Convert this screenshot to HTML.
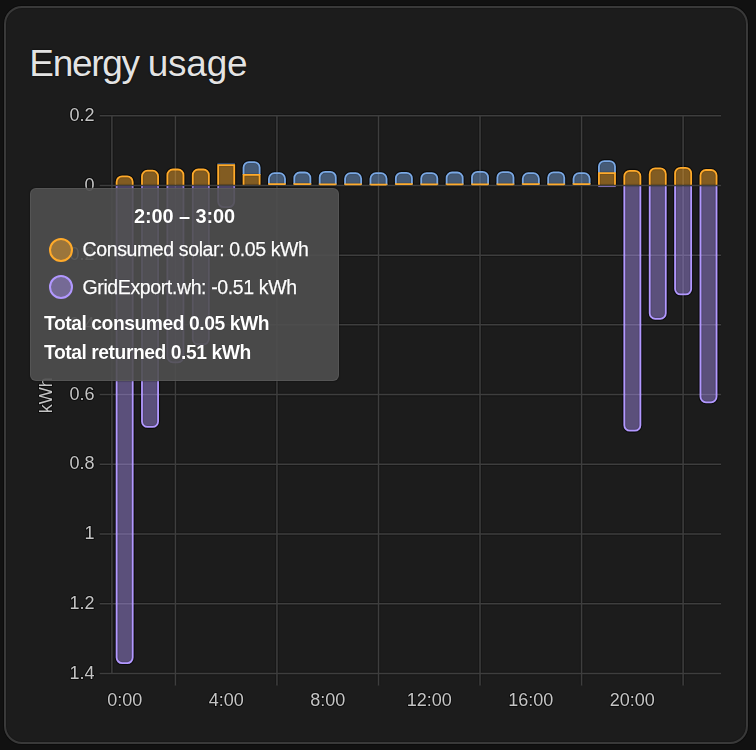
<!DOCTYPE html>
<html><head><meta charset="utf-8"><style>
html,body{margin:0;padding:0;background:#111111;width:756px;height:750px;overflow:hidden;font-family:"Liberation Sans",sans-serif;}
.card{position:absolute;left:3.6px;top:5.9px;width:744.2px;height:738.1px;box-sizing:border-box;border:2px solid #393939;border-radius:18px;background:#1c1c1c;box-shadow:0 0 0 1px rgba(0,0,0,0.35),inset 0 0 0 1px rgba(0,0,0,0.12);}
.title{position:absolute;left:29.3px;top:43px;font-size:37px;line-height:normal;color:#e3e3e3;letter-spacing:-0.85px;white-space:nowrap;text-shadow:0 0 1.2px #000,0 0 1.2px #000;}
svg{position:absolute;left:0;top:0;will-change:transform;}
.ax text{font-size:18px;fill:#c4c4c4;font-family:"Liberation Sans",sans-serif;stroke:rgba(0,0,0,0.55);stroke-width:2px;paint-order:stroke;stroke-linejoin:round;}
.tip{position:absolute;left:30px;top:188px;width:309px;height:193px;box-sizing:border-box;border-radius:6px;background:rgba(79,79,79,0.9);border:1px solid rgba(110,110,110,0.35);box-shadow:0 0 1px 0.3px rgba(0,0,0,0.18);color:#fff;will-change:transform;}
.tip div{position:absolute;white-space:nowrap;line-height:normal;-webkit-text-stroke:0.35px #fff;text-shadow:0 0 1px rgba(0,0,0,0.7);}
.tip .hd{left:0;width:100%;top:15.5px;text-align:center;font-weight:bold;font-size:20px;letter-spacing:-0.1px;-webkit-text-stroke:0;}
.tip .row{left:51.5px;font-size:19.5px;letter-spacing:-0.38px;-webkit-text-stroke:0.25px #fff;}
.tip .dot{left:17.7px;width:24.6px;height:24.6px;border-radius:50%;box-sizing:border-box;border:2.1px solid;}
.tip .tot{left:13px;font-weight:bold;font-size:19.3px;letter-spacing:-0.45px;-webkit-text-stroke:0;}
</style></head><body>
<div class="card"></div>
<div class="title" style="left:29.3px;letter-spacing:-1.3px">Energy</div><div class="title" style="left:147.7px;letter-spacing:-0.2px">usage</div>
<svg width="756" height="750" viewBox="0 0 756 750">
<g><path d="M116.60,186.15V657.60A5.50,5.50 0 0 0 122.10,663.10H127.20A5.50,5.50 0 0 0 132.70,657.60V186.15" fill="none" stroke="rgba(0,0,0,0.6)" stroke-width="4"/>
<path d="M116.60,184.65V181.90A5.50,5.50 0 0 1 122.10,176.40H127.20A5.50,5.50 0 0 1 132.70,181.90V184.65" fill="none" stroke="rgba(0,0,0,0.6)" stroke-width="4"/>
<path d="M141.98,186.15V421.40A5.50,5.50 0 0 0 147.48,426.90H152.59A5.50,5.50 0 0 0 158.09,421.40V186.15" fill="none" stroke="rgba(0,0,0,0.6)" stroke-width="4"/>
<path d="M141.98,184.65V176.20A5.50,5.50 0 0 1 147.48,170.70H152.59A5.50,5.50 0 0 1 158.09,176.20V184.65" fill="none" stroke="rgba(0,0,0,0.6)" stroke-width="4"/>
<path d="M167.37,186.15V356.80A5.50,5.50 0 0 0 172.87,362.30H177.97A5.50,5.50 0 0 0 183.47,356.80V186.15" fill="none" stroke="rgba(0,0,0,0.6)" stroke-width="4"/>
<path d="M167.37,184.65V175.00A5.50,5.50 0 0 1 172.87,169.50H177.97A5.50,5.50 0 0 1 183.47,175.00V184.65" fill="none" stroke="rgba(0,0,0,0.6)" stroke-width="4"/>
<path d="M192.75,186.15V338.90A5.50,5.50 0 0 0 198.25,344.40H203.36A5.50,5.50 0 0 0 208.86,338.90V186.15" fill="none" stroke="rgba(0,0,0,0.6)" stroke-width="4"/>
<path d="M192.75,184.65V175.00A5.50,5.50 0 0 1 198.25,169.50H203.36A5.50,5.50 0 0 1 208.86,175.00V184.65" fill="none" stroke="rgba(0,0,0,0.6)" stroke-width="4"/>
<path d="M218.14,186.15V201.60A5.50,5.50 0 0 0 223.64,207.10H228.74A5.50,5.50 0 0 0 234.24,201.60V186.15" fill="none" stroke="rgba(0,0,0,0.6)" stroke-width="4"/>
<path d="M218.14,184.65V165.20H234.24V184.65" fill="none" stroke="rgba(0,0,0,0.6)" stroke-width="4"/>
<path d="M243.53,174.90V167.60A5.50,5.50 0 0 1 249.03,162.10H254.12A5.50,5.50 0 0 1 259.62,167.60V174.90" fill="none" stroke="rgba(0,0,0,0.6)" stroke-width="4"/>
<path d="M243.53,184.65V174.90H259.62V184.65" fill="none" stroke="rgba(0,0,0,0.6)" stroke-width="4"/>
<path d="M268.91,184.20V178.70A5.50,5.50 0 0 1 274.41,173.20H279.51A5.50,5.50 0 0 1 285.01,178.70V184.20" fill="none" stroke="rgba(0,0,0,0.6)" stroke-width="4"/>
<path d="M268.91,184.65V184.20H285.01V184.65" fill="none" stroke="rgba(0,0,0,0.6)" stroke-width="4"/>
<path d="M294.30,184.20V178.00A5.50,5.50 0 0 1 299.80,172.50H304.90A5.50,5.50 0 0 1 310.40,178.00V184.20" fill="none" stroke="rgba(0,0,0,0.6)" stroke-width="4"/>
<path d="M294.30,184.65V184.20H310.40V184.65" fill="none" stroke="rgba(0,0,0,0.6)" stroke-width="4"/>
<path d="M319.68,184.40V177.40A5.50,5.50 0 0 1 325.18,171.90H330.28A5.50,5.50 0 0 1 335.78,177.40V184.40" fill="none" stroke="rgba(0,0,0,0.6)" stroke-width="4"/>
<path d="M319.68,184.65V184.40H335.78V184.65" fill="none" stroke="rgba(0,0,0,0.6)" stroke-width="4"/>
<path d="M345.06,184.40V178.70A5.50,5.50 0 0 1 350.56,173.20H355.67A5.50,5.50 0 0 1 361.17,178.70V184.40" fill="none" stroke="rgba(0,0,0,0.6)" stroke-width="4"/>
<path d="M345.06,184.65V184.40H361.17V184.65" fill="none" stroke="rgba(0,0,0,0.6)" stroke-width="4"/>
<path d="M370.45,184.90V178.70A5.50,5.50 0 0 1 375.95,173.20H381.05A5.50,5.50 0 0 1 386.55,178.70V184.90" fill="none" stroke="rgba(0,0,0,0.6)" stroke-width="4"/>
<path d="M370.45,184.65V184.60H386.55V184.65" fill="none" stroke="rgba(0,0,0,0.6)" stroke-width="4"/>
<path d="M395.83,184.20V178.30A5.50,5.50 0 0 1 401.33,172.80H406.44A5.50,5.50 0 0 1 411.94,178.30V184.20" fill="none" stroke="rgba(0,0,0,0.6)" stroke-width="4"/>
<path d="M395.83,184.65V184.20H411.94V184.65" fill="none" stroke="rgba(0,0,0,0.6)" stroke-width="4"/>
<path d="M421.22,184.40V178.60A5.50,5.50 0 0 1 426.72,173.10H431.82A5.50,5.50 0 0 1 437.32,178.60V184.40" fill="none" stroke="rgba(0,0,0,0.6)" stroke-width="4"/>
<path d="M421.22,184.65V184.40H437.32V184.65" fill="none" stroke="rgba(0,0,0,0.6)" stroke-width="4"/>
<path d="M446.60,184.40V178.00A5.50,5.50 0 0 1 452.10,172.50H457.20A5.50,5.50 0 0 1 462.70,178.00V184.40" fill="none" stroke="rgba(0,0,0,0.6)" stroke-width="4"/>
<path d="M446.60,184.65V184.40H462.70V184.65" fill="none" stroke="rgba(0,0,0,0.6)" stroke-width="4"/>
<path d="M471.99,184.40V177.30A5.50,5.50 0 0 1 477.49,171.80H482.59A5.50,5.50 0 0 1 488.09,177.30V184.40" fill="none" stroke="rgba(0,0,0,0.6)" stroke-width="4"/>
<path d="M471.99,184.65V184.40H488.09V184.65" fill="none" stroke="rgba(0,0,0,0.6)" stroke-width="4"/>
<path d="M497.38,184.40V177.60A5.50,5.50 0 0 1 502.88,172.10H507.98A5.50,5.50 0 0 1 513.48,177.60V184.40" fill="none" stroke="rgba(0,0,0,0.6)" stroke-width="4"/>
<path d="M497.38,184.65V184.40H513.48V184.65" fill="none" stroke="rgba(0,0,0,0.6)" stroke-width="4"/>
<path d="M522.76,184.20V178.70A5.50,5.50 0 0 1 528.26,173.20H533.36A5.50,5.50 0 0 1 538.86,178.70V184.20" fill="none" stroke="rgba(0,0,0,0.6)" stroke-width="4"/>
<path d="M522.76,184.65V184.20H538.86V184.65" fill="none" stroke="rgba(0,0,0,0.6)" stroke-width="4"/>
<path d="M548.15,184.40V177.80A5.50,5.50 0 0 1 553.65,172.30H558.75A5.50,5.50 0 0 1 564.25,177.80V184.40" fill="none" stroke="rgba(0,0,0,0.6)" stroke-width="4"/>
<path d="M548.15,184.65V184.40H564.25V184.65" fill="none" stroke="rgba(0,0,0,0.6)" stroke-width="4"/>
<path d="M573.53,184.20V178.70A5.50,5.50 0 0 1 579.03,173.20H584.13A5.50,5.50 0 0 1 589.63,178.70V184.20" fill="none" stroke="rgba(0,0,0,0.6)" stroke-width="4"/>
<path d="M573.53,184.65V184.20H589.63V184.65" fill="none" stroke="rgba(0,0,0,0.6)" stroke-width="4"/>
<path d="M598.92,173.10V166.60A5.50,5.50 0 0 1 604.42,161.10H609.51A5.50,5.50 0 0 1 615.01,166.60V173.10" fill="none" stroke="rgba(0,0,0,0.6)" stroke-width="4"/>
<path d="M598.92,184.65V173.10H615.01V184.65" fill="none" stroke="rgba(0,0,0,0.6)" stroke-width="4"/>
<path d="M624.30,186.15V425.20A5.50,5.50 0 0 0 629.80,430.70H634.90A5.50,5.50 0 0 0 640.40,425.20V186.15" fill="none" stroke="rgba(0,0,0,0.6)" stroke-width="4"/>
<path d="M624.30,184.65V176.30A5.50,5.50 0 0 1 629.80,170.80H634.90A5.50,5.50 0 0 1 640.40,176.30V184.65" fill="none" stroke="rgba(0,0,0,0.6)" stroke-width="4"/>
<path d="M649.69,186.15V313.30A5.50,5.50 0 0 0 655.19,318.80H660.28A5.50,5.50 0 0 0 665.78,313.30V186.15" fill="none" stroke="rgba(0,0,0,0.6)" stroke-width="4"/>
<path d="M649.69,184.65V173.90A5.50,5.50 0 0 1 655.19,168.40H660.28A5.50,5.50 0 0 1 665.78,173.90V184.65" fill="none" stroke="rgba(0,0,0,0.6)" stroke-width="4"/>
<path d="M675.07,186.15V288.90A5.50,5.50 0 0 0 680.57,294.40H685.67A5.50,5.50 0 0 0 691.17,288.90V186.15" fill="none" stroke="rgba(0,0,0,0.6)" stroke-width="4"/>
<path d="M675.07,184.65V173.30A5.50,5.50 0 0 1 680.57,167.80H685.67A5.50,5.50 0 0 1 691.17,173.30V184.65" fill="none" stroke="rgba(0,0,0,0.6)" stroke-width="4"/>
<path d="M700.46,186.15V396.80A5.50,5.50 0 0 0 705.96,402.30H711.05A5.50,5.50 0 0 0 716.55,396.80V186.15" fill="none" stroke="rgba(0,0,0,0.6)" stroke-width="4"/>
<path d="M700.46,184.65V175.50A5.50,5.50 0 0 1 705.96,170.00H711.05A5.50,5.50 0 0 1 716.55,175.50V184.65" fill="none" stroke="rgba(0,0,0,0.6)" stroke-width="4"/></g>
<g><line x1="99.7" x2="721" y1="115.70" y2="115.70" stroke="rgba(0,0,0,0.22)" stroke-width="3.6"/><line x1="99.7" x2="721" y1="185.42" y2="185.42" stroke="rgba(0,0,0,0.22)" stroke-width="3.6"/><line x1="99.7" x2="721" y1="255.14" y2="255.14" stroke="rgba(0,0,0,0.22)" stroke-width="3.6"/><line x1="99.7" x2="721" y1="324.86" y2="324.86" stroke="rgba(0,0,0,0.22)" stroke-width="3.6"/><line x1="99.7" x2="721" y1="394.58" y2="394.58" stroke="rgba(0,0,0,0.22)" stroke-width="3.6"/><line x1="99.7" x2="721" y1="464.30" y2="464.30" stroke="rgba(0,0,0,0.22)" stroke-width="3.6"/><line x1="99.7" x2="721" y1="534.02" y2="534.02" stroke="rgba(0,0,0,0.22)" stroke-width="3.6"/><line x1="99.7" x2="721" y1="603.74" y2="603.74" stroke="rgba(0,0,0,0.22)" stroke-width="3.6"/><line x1="99.7" x2="721" y1="673.46" y2="673.46" stroke="rgba(0,0,0,0.22)" stroke-width="3.6"/><line x1="111.90" x2="111.90" y1="116.5" y2="672.7" stroke="rgba(0,0,0,0.22)" stroke-width="3.6"/><line x1="175.42" x2="175.42" y1="116.5" y2="684.7" stroke="rgba(0,0,0,0.22)" stroke-width="3.6"/><line x1="276.96" x2="276.96" y1="116.5" y2="684.7" stroke="rgba(0,0,0,0.22)" stroke-width="3.6"/><line x1="378.50" x2="378.50" y1="116.5" y2="684.7" stroke="rgba(0,0,0,0.22)" stroke-width="3.6"/><line x1="480.04" x2="480.04" y1="116.5" y2="684.7" stroke="rgba(0,0,0,0.22)" stroke-width="3.6"/><line x1="581.58" x2="581.58" y1="116.5" y2="684.7" stroke="rgba(0,0,0,0.22)" stroke-width="3.6"/><line x1="683.12" x2="683.12" y1="116.5" y2="684.7" stroke="rgba(0,0,0,0.22)" stroke-width="3.6"/><line x1="99.7" x2="721" y1="115.70" y2="115.70" stroke="#3e3e3e" stroke-width="1.5"/><line x1="99.7" x2="721" y1="185.42" y2="185.42" stroke="#3e3e3e" stroke-width="1.5"/><line x1="99.7" x2="721" y1="255.14" y2="255.14" stroke="#3e3e3e" stroke-width="1.5"/><line x1="99.7" x2="721" y1="324.86" y2="324.86" stroke="#3e3e3e" stroke-width="1.5"/><line x1="99.7" x2="721" y1="394.58" y2="394.58" stroke="#3e3e3e" stroke-width="1.5"/><line x1="99.7" x2="721" y1="464.30" y2="464.30" stroke="#3e3e3e" stroke-width="1.5"/><line x1="99.7" x2="721" y1="534.02" y2="534.02" stroke="#3e3e3e" stroke-width="1.5"/><line x1="99.7" x2="721" y1="603.74" y2="603.74" stroke="#3e3e3e" stroke-width="1.5"/><line x1="99.7" x2="721" y1="673.46" y2="673.46" stroke="#3e3e3e" stroke-width="1.5"/><line x1="111.90" x2="111.90" y1="115" y2="673.5" stroke="#3e3e3e" stroke-width="1.5"/><line x1="175.42" x2="175.42" y1="115" y2="685.5" stroke="#3e3e3e" stroke-width="1.5"/><line x1="276.96" x2="276.96" y1="115" y2="685.5" stroke="#3e3e3e" stroke-width="1.5"/><line x1="378.50" x2="378.50" y1="115" y2="685.5" stroke="#3e3e3e" stroke-width="1.5"/><line x1="480.04" x2="480.04" y1="115" y2="685.5" stroke="#3e3e3e" stroke-width="1.5"/><line x1="581.58" x2="581.58" y1="115" y2="685.5" stroke="#3e3e3e" stroke-width="1.5"/><line x1="683.12" x2="683.12" y1="115" y2="685.5" stroke="#3e3e3e" stroke-width="1.5"/></g>
<g class="ax"><text x="94.6" y="120.80" text-anchor="end">0.2</text>
<text x="94.6" y="190.52" text-anchor="end">0</text>
<text x="94.6" y="260.24" text-anchor="end">0.2</text>
<text x="94.6" y="329.96" text-anchor="end">0.4</text>
<text x="94.6" y="399.68" text-anchor="end">0.6</text>
<text x="94.6" y="469.40" text-anchor="end">0.8</text>
<text x="94.6" y="539.12" text-anchor="end">1</text>
<text x="94.6" y="608.84" text-anchor="end">1.2</text>
<text x="94.6" y="678.56" text-anchor="end">1.4</text>
<text x="124.65" y="706.2" text-anchor="middle">0:00</text>
<text x="226.19" y="706.2" text-anchor="middle">4:00</text>
<text x="327.73" y="706.2" text-anchor="middle">8:00</text>
<text x="429.27" y="706.2" text-anchor="middle">12:00</text>
<text x="530.81" y="706.2" text-anchor="middle">16:00</text>
<text x="632.35" y="706.2" text-anchor="middle">20:00</text>
<text transform="translate(51.8,395.3) rotate(-90)" text-anchor="middle">kWh</text>
</g>
<g><path d="M116.60,186.15V657.60A5.50,5.50 0 0 0 122.10,663.10H127.20A5.50,5.50 0 0 0 132.70,657.60V186.15Z" fill="rgba(178,152,255,0.42)"/><path d="M116.60,186.15V657.60A5.50,5.50 0 0 0 122.10,663.10H127.20A5.50,5.50 0 0 0 132.70,657.60V186.15" fill="none" stroke="rgb(178,152,255)" stroke-width="1.8"/>
<path d="M116.60,184.65V181.90A5.50,5.50 0 0 1 122.10,176.40H127.20A5.50,5.50 0 0 1 132.70,181.90V184.65Z" fill="rgba(255,170,42,0.45)"/><path d="M116.60,184.65V181.90A5.50,5.50 0 0 1 122.10,176.40H127.20A5.50,5.50 0 0 1 132.70,181.90V184.65" fill="none" stroke="rgb(255,170,42)" stroke-width="1.8"/>
<path d="M141.98,186.15V421.40A5.50,5.50 0 0 0 147.48,426.90H152.59A5.50,5.50 0 0 0 158.09,421.40V186.15Z" fill="rgba(178,152,255,0.42)"/><path d="M141.98,186.15V421.40A5.50,5.50 0 0 0 147.48,426.90H152.59A5.50,5.50 0 0 0 158.09,421.40V186.15" fill="none" stroke="rgb(178,152,255)" stroke-width="1.8"/>
<path d="M141.98,184.65V176.20A5.50,5.50 0 0 1 147.48,170.70H152.59A5.50,5.50 0 0 1 158.09,176.20V184.65Z" fill="rgba(255,170,42,0.45)"/><path d="M141.98,184.65V176.20A5.50,5.50 0 0 1 147.48,170.70H152.59A5.50,5.50 0 0 1 158.09,176.20V184.65" fill="none" stroke="rgb(255,170,42)" stroke-width="1.8"/>
<path d="M167.37,186.15V356.80A5.50,5.50 0 0 0 172.87,362.30H177.97A5.50,5.50 0 0 0 183.47,356.80V186.15Z" fill="rgba(178,152,255,0.42)"/><path d="M167.37,186.15V356.80A5.50,5.50 0 0 0 172.87,362.30H177.97A5.50,5.50 0 0 0 183.47,356.80V186.15" fill="none" stroke="rgb(178,152,255)" stroke-width="1.8"/>
<path d="M167.37,184.65V175.00A5.50,5.50 0 0 1 172.87,169.50H177.97A5.50,5.50 0 0 1 183.47,175.00V184.65Z" fill="rgba(255,170,42,0.45)"/><path d="M167.37,184.65V175.00A5.50,5.50 0 0 1 172.87,169.50H177.97A5.50,5.50 0 0 1 183.47,175.00V184.65" fill="none" stroke="rgb(255,170,42)" stroke-width="1.8"/>
<path d="M192.75,186.15V338.90A5.50,5.50 0 0 0 198.25,344.40H203.36A5.50,5.50 0 0 0 208.86,338.90V186.15Z" fill="rgba(178,152,255,0.42)"/><path d="M192.75,186.15V338.90A5.50,5.50 0 0 0 198.25,344.40H203.36A5.50,5.50 0 0 0 208.86,338.90V186.15" fill="none" stroke="rgb(178,152,255)" stroke-width="1.8"/>
<path d="M192.75,184.65V175.00A5.50,5.50 0 0 1 198.25,169.50H203.36A5.50,5.50 0 0 1 208.86,175.00V184.65Z" fill="rgba(255,170,42,0.45)"/><path d="M192.75,184.65V175.00A5.50,5.50 0 0 1 198.25,169.50H203.36A5.50,5.50 0 0 1 208.86,175.00V184.65" fill="none" stroke="rgb(255,170,42)" stroke-width="1.8"/>
<path d="M218.14,186.15V201.60A5.50,5.50 0 0 0 223.64,207.10H228.74A5.50,5.50 0 0 0 234.24,201.60V186.15Z" fill="rgba(178,152,255,0.42)"/><path d="M218.14,186.15V201.60A5.50,5.50 0 0 0 223.64,207.10H228.74A5.50,5.50 0 0 0 234.24,201.60V186.15" fill="none" stroke="rgb(178,152,255)" stroke-width="1.8"/>
<rect x="217.39" y="163.00" width="17.60" height="1.70" fill="rgb(45,72,110)"/>
<path d="M218.14,184.65V165.20H234.24V184.65Z" fill="rgba(255,170,42,0.45)"/><path d="M218.14,184.65V165.20H234.24V184.65" fill="none" stroke="rgb(255,170,42)" stroke-width="1.8"/>
<path d="M243.53,174.90V167.60A5.50,5.50 0 0 1 249.03,162.10H254.12A5.50,5.50 0 0 1 259.62,167.60V174.90Z" fill="rgba(122,168,228,0.45)"/><path d="M243.53,174.90V167.60A5.50,5.50 0 0 1 249.03,162.10H254.12A5.50,5.50 0 0 1 259.62,167.60V174.90" fill="none" stroke="rgb(122,168,228)" stroke-width="1.8"/>
<path d="M243.53,184.65V174.90H259.62V184.65Z" fill="rgba(255,170,42,0.45)"/><path d="M243.53,184.65V174.90H259.62V184.65" fill="none" stroke="rgb(255,170,42)" stroke-width="1.8"/>
<path d="M268.91,184.20V178.70A5.50,5.50 0 0 1 274.41,173.20H279.51A5.50,5.50 0 0 1 285.01,178.70V184.20Z" fill="rgba(122,168,228,0.45)"/><path d="M268.91,184.20V178.70A5.50,5.50 0 0 1 274.41,173.20H279.51A5.50,5.50 0 0 1 285.01,178.70V184.20" fill="none" stroke="rgb(122,168,228)" stroke-width="1.8"/>
<path d="M268.91,184.65V184.20H285.01V184.65Z" fill="rgba(255,170,42,0.45)"/><path d="M268.91,184.65V184.20H285.01V184.65" fill="none" stroke="rgb(255,170,42)" stroke-width="1.8"/>
<path d="M294.30,184.20V178.00A5.50,5.50 0 0 1 299.80,172.50H304.90A5.50,5.50 0 0 1 310.40,178.00V184.20Z" fill="rgba(122,168,228,0.45)"/><path d="M294.30,184.20V178.00A5.50,5.50 0 0 1 299.80,172.50H304.90A5.50,5.50 0 0 1 310.40,178.00V184.20" fill="none" stroke="rgb(122,168,228)" stroke-width="1.8"/>
<path d="M294.30,184.65V184.20H310.40V184.65Z" fill="rgba(255,170,42,0.45)"/><path d="M294.30,184.65V184.20H310.40V184.65" fill="none" stroke="rgb(255,170,42)" stroke-width="1.8"/>
<path d="M319.68,184.40V177.40A5.50,5.50 0 0 1 325.18,171.90H330.28A5.50,5.50 0 0 1 335.78,177.40V184.40Z" fill="rgba(122,168,228,0.45)"/><path d="M319.68,184.40V177.40A5.50,5.50 0 0 1 325.18,171.90H330.28A5.50,5.50 0 0 1 335.78,177.40V184.40" fill="none" stroke="rgb(122,168,228)" stroke-width="1.8"/>
<path d="M319.68,184.65V184.40H335.78V184.65Z" fill="rgba(255,170,42,0.45)"/><path d="M319.68,184.65V184.40H335.78V184.65" fill="none" stroke="rgb(255,170,42)" stroke-width="1.8"/>
<path d="M345.06,184.40V178.70A5.50,5.50 0 0 1 350.56,173.20H355.67A5.50,5.50 0 0 1 361.17,178.70V184.40Z" fill="rgba(122,168,228,0.45)"/><path d="M345.06,184.40V178.70A5.50,5.50 0 0 1 350.56,173.20H355.67A5.50,5.50 0 0 1 361.17,178.70V184.40" fill="none" stroke="rgb(122,168,228)" stroke-width="1.8"/>
<path d="M345.06,184.65V184.40H361.17V184.65Z" fill="rgba(255,170,42,0.45)"/><path d="M345.06,184.65V184.40H361.17V184.65" fill="none" stroke="rgb(255,170,42)" stroke-width="1.8"/>
<path d="M370.45,184.90V178.70A5.50,5.50 0 0 1 375.95,173.20H381.05A5.50,5.50 0 0 1 386.55,178.70V184.90Z" fill="rgba(122,168,228,0.45)"/><path d="M370.45,184.90V178.70A5.50,5.50 0 0 1 375.95,173.20H381.05A5.50,5.50 0 0 1 386.55,178.70V184.90" fill="none" stroke="rgb(122,168,228)" stroke-width="1.8"/>
<path d="M370.45,184.65V184.60H386.55V184.65Z" fill="rgba(255,170,42,0.45)"/><path d="M370.45,184.65V184.60H386.55V184.65" fill="none" stroke="rgb(255,170,42)" stroke-width="1.8"/>
<path d="M395.83,184.20V178.30A5.50,5.50 0 0 1 401.33,172.80H406.44A5.50,5.50 0 0 1 411.94,178.30V184.20Z" fill="rgba(122,168,228,0.45)"/><path d="M395.83,184.20V178.30A5.50,5.50 0 0 1 401.33,172.80H406.44A5.50,5.50 0 0 1 411.94,178.30V184.20" fill="none" stroke="rgb(122,168,228)" stroke-width="1.8"/>
<path d="M395.83,184.65V184.20H411.94V184.65Z" fill="rgba(255,170,42,0.45)"/><path d="M395.83,184.65V184.20H411.94V184.65" fill="none" stroke="rgb(255,170,42)" stroke-width="1.8"/>
<path d="M421.22,184.40V178.60A5.50,5.50 0 0 1 426.72,173.10H431.82A5.50,5.50 0 0 1 437.32,178.60V184.40Z" fill="rgba(122,168,228,0.45)"/><path d="M421.22,184.40V178.60A5.50,5.50 0 0 1 426.72,173.10H431.82A5.50,5.50 0 0 1 437.32,178.60V184.40" fill="none" stroke="rgb(122,168,228)" stroke-width="1.8"/>
<path d="M421.22,184.65V184.40H437.32V184.65Z" fill="rgba(255,170,42,0.45)"/><path d="M421.22,184.65V184.40H437.32V184.65" fill="none" stroke="rgb(255,170,42)" stroke-width="1.8"/>
<path d="M446.60,184.40V178.00A5.50,5.50 0 0 1 452.10,172.50H457.20A5.50,5.50 0 0 1 462.70,178.00V184.40Z" fill="rgba(122,168,228,0.45)"/><path d="M446.60,184.40V178.00A5.50,5.50 0 0 1 452.10,172.50H457.20A5.50,5.50 0 0 1 462.70,178.00V184.40" fill="none" stroke="rgb(122,168,228)" stroke-width="1.8"/>
<path d="M446.60,184.65V184.40H462.70V184.65Z" fill="rgba(255,170,42,0.45)"/><path d="M446.60,184.65V184.40H462.70V184.65" fill="none" stroke="rgb(255,170,42)" stroke-width="1.8"/>
<path d="M471.99,184.40V177.30A5.50,5.50 0 0 1 477.49,171.80H482.59A5.50,5.50 0 0 1 488.09,177.30V184.40Z" fill="rgba(122,168,228,0.45)"/><path d="M471.99,184.40V177.30A5.50,5.50 0 0 1 477.49,171.80H482.59A5.50,5.50 0 0 1 488.09,177.30V184.40" fill="none" stroke="rgb(122,168,228)" stroke-width="1.8"/>
<path d="M471.99,184.65V184.40H488.09V184.65Z" fill="rgba(255,170,42,0.45)"/><path d="M471.99,184.65V184.40H488.09V184.65" fill="none" stroke="rgb(255,170,42)" stroke-width="1.8"/>
<path d="M497.38,184.40V177.60A5.50,5.50 0 0 1 502.88,172.10H507.98A5.50,5.50 0 0 1 513.48,177.60V184.40Z" fill="rgba(122,168,228,0.45)"/><path d="M497.38,184.40V177.60A5.50,5.50 0 0 1 502.88,172.10H507.98A5.50,5.50 0 0 1 513.48,177.60V184.40" fill="none" stroke="rgb(122,168,228)" stroke-width="1.8"/>
<path d="M497.38,184.65V184.40H513.48V184.65Z" fill="rgba(255,170,42,0.45)"/><path d="M497.38,184.65V184.40H513.48V184.65" fill="none" stroke="rgb(255,170,42)" stroke-width="1.8"/>
<path d="M522.76,184.20V178.70A5.50,5.50 0 0 1 528.26,173.20H533.36A5.50,5.50 0 0 1 538.86,178.70V184.20Z" fill="rgba(122,168,228,0.45)"/><path d="M522.76,184.20V178.70A5.50,5.50 0 0 1 528.26,173.20H533.36A5.50,5.50 0 0 1 538.86,178.70V184.20" fill="none" stroke="rgb(122,168,228)" stroke-width="1.8"/>
<path d="M522.76,184.65V184.20H538.86V184.65Z" fill="rgba(255,170,42,0.45)"/><path d="M522.76,184.65V184.20H538.86V184.65" fill="none" stroke="rgb(255,170,42)" stroke-width="1.8"/>
<path d="M548.15,184.40V177.80A5.50,5.50 0 0 1 553.65,172.30H558.75A5.50,5.50 0 0 1 564.25,177.80V184.40Z" fill="rgba(122,168,228,0.45)"/><path d="M548.15,184.40V177.80A5.50,5.50 0 0 1 553.65,172.30H558.75A5.50,5.50 0 0 1 564.25,177.80V184.40" fill="none" stroke="rgb(122,168,228)" stroke-width="1.8"/>
<path d="M548.15,184.65V184.40H564.25V184.65Z" fill="rgba(255,170,42,0.45)"/><path d="M548.15,184.65V184.40H564.25V184.65" fill="none" stroke="rgb(255,170,42)" stroke-width="1.8"/>
<path d="M573.53,184.20V178.70A5.50,5.50 0 0 1 579.03,173.20H584.13A5.50,5.50 0 0 1 589.63,178.70V184.20Z" fill="rgba(122,168,228,0.45)"/><path d="M573.53,184.20V178.70A5.50,5.50 0 0 1 579.03,173.20H584.13A5.50,5.50 0 0 1 589.63,178.70V184.20" fill="none" stroke="rgb(122,168,228)" stroke-width="1.8"/>
<path d="M573.53,184.65V184.20H589.63V184.65Z" fill="rgba(255,170,42,0.45)"/><path d="M573.53,184.65V184.20H589.63V184.65" fill="none" stroke="rgb(255,170,42)" stroke-width="1.8"/>
<path d="M598.92,173.10V166.60A5.50,5.50 0 0 1 604.42,161.10H609.51A5.50,5.50 0 0 1 615.01,166.60V173.10Z" fill="rgba(122,168,228,0.45)"/><path d="M598.92,173.10V166.60A5.50,5.50 0 0 1 604.42,161.10H609.51A5.50,5.50 0 0 1 615.01,166.60V173.10" fill="none" stroke="rgb(122,168,228)" stroke-width="1.8"/>
<path d="M598.92,184.65V173.10H615.01V184.65Z" fill="rgba(255,170,42,0.45)"/><path d="M598.92,184.65V173.10H615.01V184.65" fill="none" stroke="rgb(255,170,42)" stroke-width="1.8"/>
<path d="M624.30,186.15V425.20A5.50,5.50 0 0 0 629.80,430.70H634.90A5.50,5.50 0 0 0 640.40,425.20V186.15Z" fill="rgba(178,152,255,0.42)"/><path d="M624.30,186.15V425.20A5.50,5.50 0 0 0 629.80,430.70H634.90A5.50,5.50 0 0 0 640.40,425.20V186.15" fill="none" stroke="rgb(178,152,255)" stroke-width="1.8"/>
<path d="M624.30,184.65V176.30A5.50,5.50 0 0 1 629.80,170.80H634.90A5.50,5.50 0 0 1 640.40,176.30V184.65Z" fill="rgba(255,170,42,0.45)"/><path d="M624.30,184.65V176.30A5.50,5.50 0 0 1 629.80,170.80H634.90A5.50,5.50 0 0 1 640.40,176.30V184.65" fill="none" stroke="rgb(255,170,42)" stroke-width="1.8"/>
<path d="M649.69,186.15V313.30A5.50,5.50 0 0 0 655.19,318.80H660.28A5.50,5.50 0 0 0 665.78,313.30V186.15Z" fill="rgba(178,152,255,0.42)"/><path d="M649.69,186.15V313.30A5.50,5.50 0 0 0 655.19,318.80H660.28A5.50,5.50 0 0 0 665.78,313.30V186.15" fill="none" stroke="rgb(178,152,255)" stroke-width="1.8"/>
<path d="M649.69,184.65V173.90A5.50,5.50 0 0 1 655.19,168.40H660.28A5.50,5.50 0 0 1 665.78,173.90V184.65Z" fill="rgba(255,170,42,0.45)"/><path d="M649.69,184.65V173.90A5.50,5.50 0 0 1 655.19,168.40H660.28A5.50,5.50 0 0 1 665.78,173.90V184.65" fill="none" stroke="rgb(255,170,42)" stroke-width="1.8"/>
<path d="M675.07,186.15V288.90A5.50,5.50 0 0 0 680.57,294.40H685.67A5.50,5.50 0 0 0 691.17,288.90V186.15Z" fill="rgba(178,152,255,0.42)"/><path d="M675.07,186.15V288.90A5.50,5.50 0 0 0 680.57,294.40H685.67A5.50,5.50 0 0 0 691.17,288.90V186.15" fill="none" stroke="rgb(178,152,255)" stroke-width="1.8"/>
<path d="M675.07,184.65V173.30A5.50,5.50 0 0 1 680.57,167.80H685.67A5.50,5.50 0 0 1 691.17,173.30V184.65Z" fill="rgba(255,170,42,0.45)"/><path d="M675.07,184.65V173.30A5.50,5.50 0 0 1 680.57,167.80H685.67A5.50,5.50 0 0 1 691.17,173.30V184.65" fill="none" stroke="rgb(255,170,42)" stroke-width="1.8"/>
<path d="M700.46,186.15V396.80A5.50,5.50 0 0 0 705.96,402.30H711.05A5.50,5.50 0 0 0 716.55,396.80V186.15Z" fill="rgba(178,152,255,0.42)"/><path d="M700.46,186.15V396.80A5.50,5.50 0 0 0 705.96,402.30H711.05A5.50,5.50 0 0 0 716.55,396.80V186.15" fill="none" stroke="rgb(178,152,255)" stroke-width="1.8"/>
<path d="M700.46,184.65V175.50A5.50,5.50 0 0 1 705.96,170.00H711.05A5.50,5.50 0 0 1 716.55,175.50V184.65Z" fill="rgba(255,170,42,0.45)"/><path d="M700.46,184.65V175.50A5.50,5.50 0 0 1 705.96,170.00H711.05A5.50,5.50 0 0 1 716.55,175.50V184.65" fill="none" stroke="rgb(255,170,42)" stroke-width="1.8"/>
<rect x="598.17" y="186.15" width="17.60" height="0.9" fill="rgb(140,120,200)"/></g>
</svg>
<div class="tip">
<div class="hd">2:00 – 3:00</div>
<div class="dot" style="top:48.5px;background:rgba(255,170,42,0.45);border-color:rgb(255,170,42)"></div>
<div class="row" style="top:49.3px">Consumed solar: 0.05 kWh</div>
<div class="dot" style="top:85.8px;background:rgba(178,152,255,0.42);border-color:rgb(178,152,255)"></div>
<div class="row" style="top:87.3px">GridExport.wh: -0.51 kWh</div>
<div class="tot" style="top:123.5px">Total consumed 0.05 kWh</div>
<div class="tot" style="top:152.5px">Total returned 0.51 kWh</div>
</div>
</body></html>
